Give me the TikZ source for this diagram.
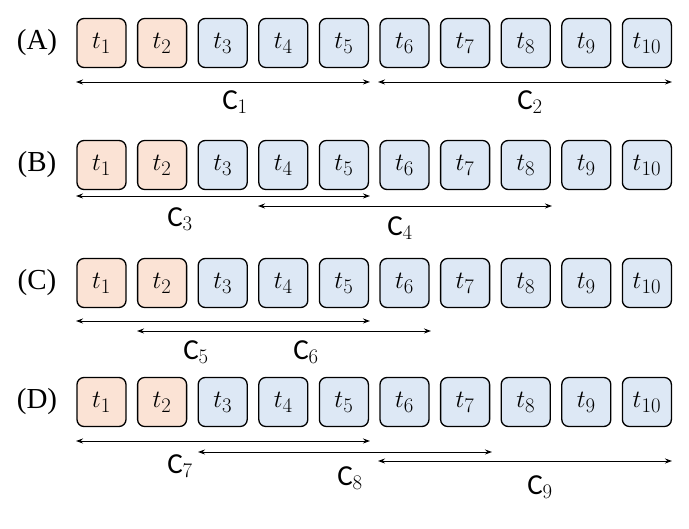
\documentclass[tikz,border=0pt]{standalone}
\usepackage{fontspec}
\setsansfont{Carlito}
\newfontfamily\timesf{Liberation Serif}
\usetikzlibrary{arrows.meta}
\definecolor{orgc}{HTML}{FBE3D5}
\definecolor{bluc}{HTML}{DDE8F5}
\begin{document}
\begin{tikzpicture}[x=1pt,y=-1pt,
  tok/.style={draw=black,line width=1.3pt,rounded corners=7pt,minimum width=49pt,minimum height=49pt,inner sep=0pt,font=\fontsize{30}{30}\selectfont},
  org/.style={tok,fill=orgc},
  blu/.style={tok,fill=bluc},
  span/.style={{Stealth[length=7pt,width=5pt]}-{Stealth[length=7pt,width=5pt]},line width=0.9pt},
  cl/.style={font=\sffamily\fontsize{29}{29}\selectfont},
  rl/.style={font=\timesf\fontsize{29}{29}\selectfont}]
\useasboundingbox (0,0) rectangle (689,529);
\foreach \r/\lab/\y in {A/(A)/43,B/(B)/165,C/(C)/283,D/(D)/402}{
  \node[rl] (l\r) at (37,\y) {\lab};
  \foreach \i in {1,...,10}{
    \ifnum\i<3 \def\st{org}\else\def\st{blu}\fi
    \node[\st] (\r\i) at ({101.5+(\i-1)*60.6},\y) {$t_{\scriptstyle\i}$};
  }
}
\coordinate (a1) at (76,82); \coordinate (a2) at (370,82);
\coordinate (a3) at (378,82); \coordinate (a4) at (672,82);
\draw[span] (a2) -- (a1); \draw[span] (a3) -- (a4);
\node[cl] at (235,102) {C$_{1}$}; \node[cl] at (530,102) {C$_{2}$};
\coordinate (b1) at (76,196); \coordinate (b2) at (370,196);
\coordinate (b3) at (258,206); \coordinate (b4) at (552,206);
\draw[span] (b1) -- (b2); \draw[span] (b3) -- (b4);
\node[cl] at (180,219) {C$_{3}$}; \node[cl] at (400,228) {C$_{4}$};
\coordinate (c1) at (76,321); \coordinate (c2) at (370,321);
\coordinate (c3) at (137,331); \coordinate (c4) at (431,331);
\draw[span] (c1) -- (c2); \draw[span] (c3) -- (c4);
\node[cl] at (196,352) {C$_{5}$}; \node[cl] at (306,352) {C$_{6}$};
\coordinate (d1) at (76,441); \coordinate (d2) at (370,441);
\coordinate (d3) at (198,452); \coordinate (d4) at (492,452);
\coordinate (d5) at (378,461); \coordinate (d6) at (672,461);
\draw[span] (d1) -- (d2); \draw[span] (d3) -- (d4); \draw[span] (d5) -- (d6);
\node[cl] at (180,466) {C$_{7}$}; \node[cl] at (350,478) {C$_{8}$}; \node[cl] at (540,487) {C$_{9}$};
\end{tikzpicture}
\end{document}
